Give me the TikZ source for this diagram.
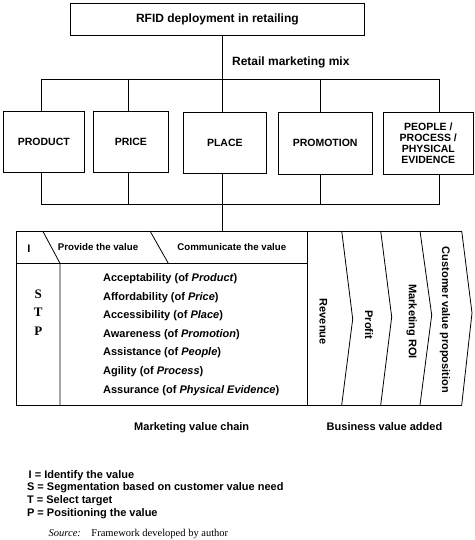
\documentclass[tikz,border=0pt]{standalone}
\usepackage{fontspec}
\setmainfont{Liberation Sans}
\newfontfamily\serifont{Liberation Serif}
\begin{document}
\begin{tikzpicture}[x=1pt,y=-1pt, line width=0.8pt,
  box/.style={draw, font=\fontsize{10.5}{11.3}\selectfont\bfseries, align=center, inner sep=0pt},
  lbl/.style={font=\fontsize{11}{13}\selectfont\bfseries, inner sep=0pt},
  big/.style={font=\fontsize{12}{14}\selectfont\bfseries, inner sep=0pt},
  hdr/.style={font=\fontsize{9.7}{12}\selectfont\bfseries, inner sep=0pt},
  stp/.style={font=\serifont\fontsize{13}{15}\selectfont\bfseries, inner sep=0pt},
  vlbl/.style={font=\fontsize{11}{13}\selectfont\bfseries, inner sep=0pt, rotate=-90}]
\useasboundingbox (0,0) rectangle (474,540);

% top box
\node[draw, big, minimum width=293.3pt, minimum height=32.4pt] (rfid) at (217.35,19.5) {RFID deployment in retailing};
\node[big, anchor=mid west] (mix) at (231.7,63) {Retail marketing mix};

% mix boxes
\node[box, minimum width=81pt, minimum height=61pt] (product) at (43.8,142.2) {PRODUCT};
\node[box, minimum width=75pt, minimum height=61pt] (price) at (130.8,142.2) {PRICE};
\node[box, minimum width=82.3pt, minimum height=61pt] (place) at (224.85,142.8) {PLACE};
\node[box, minimum width=94.3pt, minimum height=61.3pt] (promo) at (325.15,143.3) {PROMOTION};
\node[box, minimum width=90pt, minimum height=61.7pt] (people) at (428.3,143.2) {PEOPLE /\\PROCESS /\\PHYSICAL\\EVIDENCE};

% buses
\coordinate (t1) at (41.7,79);
\coordinate (t2) at (128.7,79);
\coordinate (t3) at (222.7,79);
\coordinate (t4) at (320,79);
\coordinate (t5) at (439.3,79);
\coordinate (u1) at (41.7,204.7);
\coordinate (u2) at (128.7,204.7);
\coordinate (u3) at (222.7,204.7);
\coordinate (u4) at (320,204.7);
\coordinate (u5) at (439.3,204.7);

\draw (t1) -- (t5);
\draw (u1) -- (u5);
\draw (t3 |- rfid.south) -- (t3) -- (t3 |- place.north);
\draw (t1) -- (t1 |- product.north);
\draw (t2) -- (t2 |- price.north);
\draw (t4) -- (t4 |- promo.north);
\draw (t5) -- (t5 |- people.north);
\draw (u1) -- (u1 |- product.south);
\draw (u2) -- (u2 |- price.south);
\draw (u3) -- (u3 |- place.south);
\draw (u4) -- (u4 |- promo.south);
\draw (u5) -- (u5 |- people.south);

% value chain frame
\coordinate (tl) at (16,231);
\coordinate (bl) at (16,405);
\coordinate (tr) at (461.7,231);
\coordinate (br) at (461.7,405);
\draw (u3) -- (u3 |- tl);
\draw (tr) -- (tl) -- (bl) -- (br);
\draw (307,231) -- (307,405);
\draw (16,263.3) -- (307,263.3);
\draw (42.7,231) -- (60,263.3) -- (60,405);
\draw (150,231) -- (168.3,263.3);
% chevrons
\draw (341.7,231) -- (352.7,319) -- (341.7,405);
\draw (380.7,231) -- (391.7,317) -- (380.7,405);
\draw (420,231) -- (431.7,315) -- (420,405);
\draw (tr) -- (472,313) -- (br);

% header texts
\node[lbl, anchor=mid] (i) at (29,250) {I};
\node[hdr, anchor=mid] (prov) at (98,248) {Provide the value};
\node[hdr, anchor=mid] (comm) at (231.8,248) {Communicate the value};

% STP
\node[stp, anchor=mid] (s) at (38.3,296) {S};
\node[stp, anchor=mid] (t) at (38.3,314.3) {T};
\node[stp, anchor=mid] (p) at (38.3,332.7) {P};

% list
\node[lbl, anchor=mid west] (a1) at (102.7,279) {Acceptability (of \textit{Product})};
\node[lbl, anchor=mid west] (a2) at (102.7,297.7) {Affordability (of \textit{Price})};
\node[lbl, anchor=mid west] (a3) at (102.7,316.3) {Accessibility (of \textit{Place})};
\node[lbl, anchor=mid west] (a4) at (102.7,335) {Awareness (of \textit{Promotion})};
\node[lbl, anchor=mid west] (a5) at (102.7,353.3) {Assistance (of \textit{People})};
\node[lbl, anchor=mid west] (a6) at (102.7,372) {Agility (of \textit{Process})};
\node[lbl, anchor=mid west] (a7) at (102.7,391) {Assurance (of \textit{Physical Evidence})};

% rotated labels
\node[vlbl] (rev) at (323.3,321.7) {Revenue};
\node[vlbl] (prof) at (369,325) {Profit};
\node[vlbl] (roi) at (411.7,321.7) {Marketing ROI};
\node[vlbl] (cvp) at (445,320) {Customer value proposition};

% captions
\node[lbl, anchor=mid] (mvc) at (191.7,428.3) {Marketing value chain};
\node[lbl, anchor=mid] (bva) at (384.5,428.3) {Business value added};

% legend
\node[lbl, anchor=mid west] (l1) at (28.3,476) {I = Identify the value};
\node[lbl, anchor=mid west] (l2) at (26.7,488.3) {S = Segmentation based on customer value need};
\node[lbl, anchor=mid west] (l3) at (26.7,500.7) {T = Select target};
\node[lbl, anchor=mid west] (l4) at (26.7,513.7) {P = Positioning the value};

\node[font=\serifont\fontsize{10.5}{13}\selectfont, inner sep=0pt, anchor=base west] (src) at (48.3,536.5) {\textit{Source:}\quad Framework developed by author};
\end{tikzpicture}
\end{document}
